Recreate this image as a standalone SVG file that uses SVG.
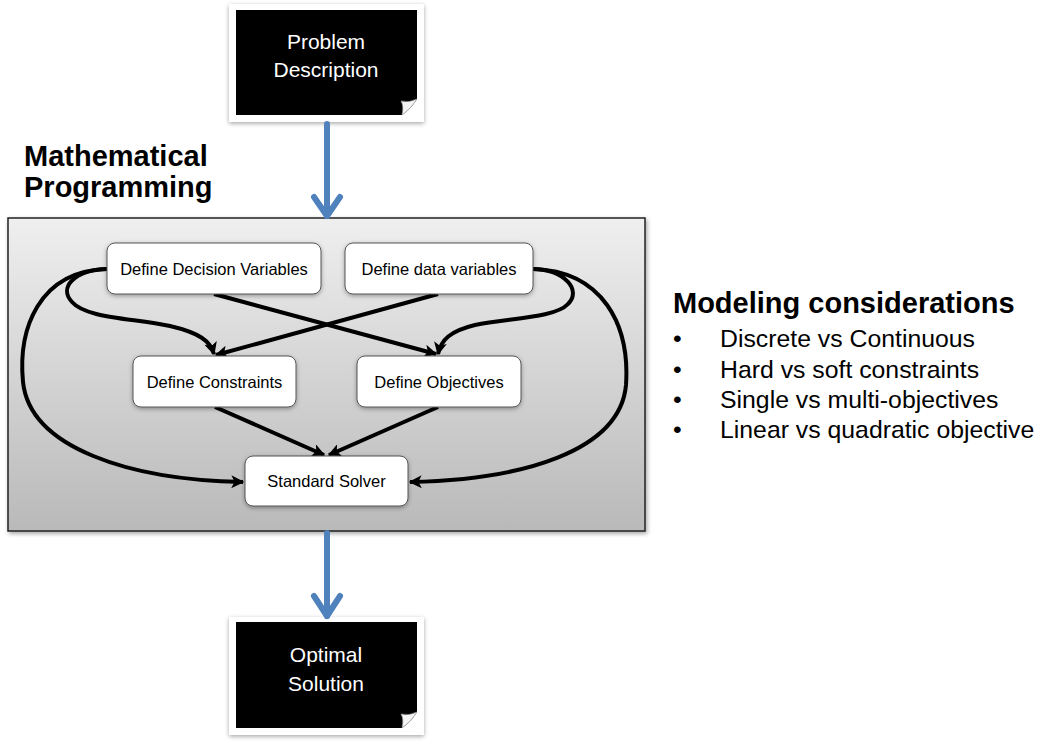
<svg xmlns="http://www.w3.org/2000/svg" width="1040" height="745" viewBox="0 0 1040 745">
<style>
.node rect{fill:#fff;stroke:#555;stroke-width:1}
.ntext{font-family:"Liberation Sans",Arial,sans-serif;font-size:16.5px;fill:#000;text-anchor:middle}
.conn path,.conn line{fill:none;stroke:#000;stroke-width:4;marker-end:url(#ah)}
.blue{stroke:#4F81BD;stroke-width:6;fill:none;stroke-linecap:round;stroke-linejoin:round}
.paper text{font-family:"Liberation Sans",Arial,sans-serif;font-size:21px;fill:#fff;text-anchor:middle}
.title{font-family:"Liberation Sans",Arial,sans-serif;font-weight:bold;font-size:29px;fill:#000}
.list{font-family:"Liberation Sans",Arial,sans-serif;font-size:24.8px;fill:#000}
</style>
<defs>
<linearGradient id="pg" x1="0" y1="0" x2="0" y2="1">
<stop offset="0" stop-color="#efefef"/>
<stop offset="1" stop-color="#b9b9b9"/>
</linearGradient>
<filter id="sh" x="-10%" y="-10%" width="130%" height="130%">
<feDropShadow dx="1.5" dy="2" stdDeviation="2" flood-color="#000" flood-opacity="0.35"/>
</filter>
<filter id="sh2" x="-10%" y="-10%" width="130%" height="130%">
<feDropShadow dx="0" dy="1.5" stdDeviation="2" flood-color="#000" flood-opacity="0.35"/>
</filter>
<marker id="ah" viewBox="0 0 10 10" refX="9" refY="5" markerWidth="15" markerHeight="13" markerUnits="userSpaceOnUse" orient="auto">
<path d="M0,0 L10,5 L0,10 L2.5,5 Z" fill="#000"/>
</marker>
</defs>

<rect width="1040" height="745" fill="#fff"/>

<!-- Problem Description -->
<g id="problem" class="paper">
<rect x="229" y="4" width="195" height="118" fill="#fff" filter="url(#sh2)"/>
<path d="M236,10 H417 V99 Q411,109 402,115 H236 Z" fill="#000"/>
<path d="M417,99 Q411,109 402,115 Q404,106 401,101 Q409,103 417,99 Z" fill="#f4f4f4" stroke="#999" stroke-width="0.6"/>
<text x="326" y="49">Problem</text>
<text x="326" y="77">Description</text>
</g>

<!-- Optimal Solution -->
<g id="optimal" class="paper">
<rect x="229" y="617" width="195" height="118" fill="#fff" filter="url(#sh2)"/>
<path d="M236,622 H417 V712 Q411,722 402,728 H236 Z" fill="#000"/>
<path d="M417,712 Q411,722 402,728 Q404,719 401,714 Q409,716 417,712 Z" fill="#f4f4f4" stroke="#999" stroke-width="0.6"/>
<text x="326" y="662">Optimal</text>
<text x="326" y="691">Solution</text>
</g>

<!-- Panel -->
<g id="panel">
<rect x="8" y="218" width="637" height="313" fill="url(#pg)" stroke="#222" stroke-width="1.5" filter="url(#sh)"/>
</g>

<g id="title">
<text class="title" x="24" y="166">Mathematical</text>
<text class="title" x="24" y="197">Programming</text>
</g>

<!-- Blue arrows -->
<g id="flow">
<path class="blue" d="M327,124 V216"/>
<path class="blue" d="M314,197 L327,216 L340,197"/>
<path class="blue" d="M327,533 V616"/>
<path class="blue" d="M314,596 L327,616 L340,596"/>
</g>

<!-- Connectors -->
<g id="connectors" class="conn">
<line x1="214" y1="294" x2="436" y2="354"/>
<line x1="438" y1="294" x2="216" y2="355"/>
<path d="M107,269 C75,270 58,287 72,302 C86,318 130,318 170,326 C200,333 210,341 214,354"/>
<path d="M107,269 C38,271 18,330 23,382 C30,448 130,480 243,482"/>
<path d="M533,269 C565,270 582,290 568,304 C555,318 510,318 475,325 C450,331 441,340 438,354"/>
<path d="M533,269 C603,271 630,325 626,385 C620,452 520,480 410,482"/>
<line x1="215" y1="407" x2="324" y2="455"/>
<line x1="438" y1="407" x2="329" y2="455"/>
</g>

<!-- Nodes -->
<g id="n-decision" class="node">
<rect x="107" y="243" width="214" height="51" rx="8" filter="url(#sh2)"/>
<text class="ntext" x="214" y="275">Define Decision Variables</text>
</g>
<g id="n-data" class="node">
<rect x="345" y="243" width="188" height="51" rx="8" filter="url(#sh2)"/>
<text class="ntext" x="439" y="275">Define data variables</text>
</g>
<g id="n-constraints" class="node">
<rect x="133" y="356" width="163" height="51" rx="8" filter="url(#sh2)"/>
<text class="ntext" x="214.5" y="388">Define Constraints</text>
</g>
<g id="n-objectives" class="node">
<rect x="357" y="356" width="164" height="51" rx="8" filter="url(#sh2)"/>
<text class="ntext" x="439" y="388">Define Objectives</text>
</g>
<g id="n-solver" class="node">
<rect x="245" y="456" width="163" height="50" rx="8" filter="url(#sh2)"/>
<text class="ntext" x="326.5" y="487">Standard Solver</text>
</g>

<!-- Modeling considerations -->
<g id="considerations">
<text class="title" x="673" y="313">Modeling considerations</text>
<text class="list" x="673" y="347">•</text>
<text class="list" x="720" y="347">Discrete vs Continuous</text>
<text class="list" x="673" y="378">•</text>
<text class="list" x="720" y="378">Hard vs soft constraints</text>
<text class="list" x="673" y="408">•</text>
<text class="list" x="720" y="408">Single vs multi-objectives</text>
<text class="list" x="673" y="438">•</text>
<text class="list" x="720" y="438">Linear vs quadratic objective</text>
</g>
</svg>
